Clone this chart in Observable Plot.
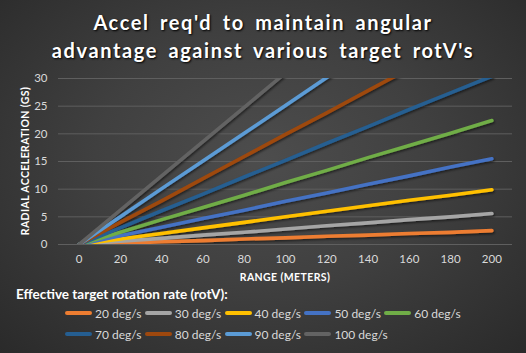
<!DOCTYPE html>
<html><head><meta charset="utf-8">
<script src="https://cdn.jsdelivr.net/npm/d3@7"></script>
<script src="https://cdn.jsdelivr.net/npm/@observablehq/plot@0.6"></script>
<style>
html,body{margin:0;padding:0;background:#333;}
#wrap{position:relative;width:526px;height:353px;overflow:hidden;
 background:radial-gradient(ellipse at 50% 45%, #4d4d4d 0%, #404040 45%, #2a2a2a 100%);
 font-family:Lato,"Open Sans",sans-serif;}
#title{position:absolute;left:0;top:8px;width:526px;text-align:center;color:#fff;font-weight:bold;
 font-size:20px;line-height:28px;letter-spacing:1.6px;word-spacing:4px;text-shadow:1px 1px 2px #000;}
#chart{position:absolute;left:0;top:0;}
#ltitle{position:absolute;left:16px;top:286px;color:#fff;font-weight:bold;font-size:13.5px;}
.item{position:absolute;height:16px;display:flex;align-items:center;color:#d9d9d9;font-size:12px;}
.sw{width:27px;height:4px;border-radius:2px;margin-right:3px;}
</style></head>
<body><div id="wrap">
<div id="chart"></div>
<div id="title">Accel req'd to maintain angular<br>advantage against various target rotV's</div>
<div id="ltitle">Effective target rotation rate (rotV):</div>
</div>
<script>
const range = [0,20,40,60,80,100,120,140,160,180,200];
const rates = ["20 deg/s","30 deg/s","40 deg/s","50 deg/s","60 deg/s","70 deg/s","80 deg/s","90 deg/s","100 deg/s"];
const colors = ["#ED7D31","#A5A5A5","#FFC000","#4472C4","#70AD47","#255E91","#9E480E","#5B9BD5","#636363"];
const accel20  = [0,0.2,0.5,0.7,1.0,1.2,1.5,1.7,2.0,2.2,2.5];
const accel30  = [0,0.6,1.1,1.7,2.2,2.8,3.4,3.9,4.5,5.0,5.6];
const accel40  = [0,1.0,2.0,3.0,4.0,5.0,6.0,7.0,8.0,8.9,9.9];
const accel50  = [0,1.6,3.1,4.7,6.2,7.8,9.3,10.9,12.4,14.0,15.5];
const accel60  = [0,2.2,4.5,6.7,8.9,11.2,13.4,15.7,17.9,20.1,22.4];
const accel70  = [0,3.0,6.1,9.1,12.2,15.2,18.3,21.3,24.4,27.4,30.4];
const accel80  = [0,4.0,7.9,11.9,15.9,19.9,23.8,27.8,31.8,35.8,39.7];
const accel90  = [0,5.0,10.1,15.1,20.1,25.1,30.2,35.2,40.2,45.3,50.3];
const accel100 = [0,6.2,12.4,18.6,24.8,31.0,37.3,43.5,49.7,55.9,62.1];
const yTicks = [0,5,10,15,20,25,30];
const xTicks = range;

const series = [accel20,accel30,accel40,accel50,accel60,accel70,accel80,accel90,accel100];
const data = series.flatMap((s,i)=>s.map((v,j)=>({rate:rates[i],x:range[j],y:v})));

const plot = Plot.plot({
  width:526, height:353,
  marginLeft:58, marginRight:14, marginTop:78, marginBottom:109,
  style:{background:"transparent",color:"#d9d9d9",fontFamily:"Lato, 'Open Sans', sans-serif",fontSize:"11.5px"},
  x:{domain:[-10,210], ticks:xTicks, tickSize:0, tickPadding:11, label:null},
  y:{domain:[0,30], ticks:yTicks, tickSize:0, tickPadding:11, label:null},
  color:{domain:rates, range:colors},
  marks:[
    Plot.gridY(yTicks,{stroke:"#5f5f5f",strokeOpacity:1,strokeWidth:1}),
    Plot.axisX({ticks:xTicks,tickSize:0,tickPadding:10,label:null,fill:"#d9d9d9"}),
    Plot.axisY({ticks:yTicks,tickSize:0,tickPadding:11,label:null,fill:"#d9d9d9"}),
    Plot.line(data,{x:"x",y:"y",z:"rate",stroke:"rate",strokeWidth:3.6,strokeLinecap:"round",strokeLinejoin:"round",clip:true})
  ]
});
const svg = d3.select(plot);
svg.insert("defs",":first-child").html('<filter id="sh" x="-10%" y="-10%" width="120%" height="130%"><feDropShadow dx="1" dy="1.5" stdDeviation="1" flood-color="#000" flood-opacity="0.55"/></filter>');
svg.selectAll("g[aria-label='line']").attr("filter","url(#sh)");
// axis titles
svg.append("text").attr("transform","translate(29,161) rotate(-90)").attr("text-anchor","middle")
  .attr("fill","#fff").attr("font-weight","bold").attr("font-size","10.5px").attr("letter-spacing","0.4px").text("RADIAL ACCELERATION (GS)");
svg.append("text").attr("x",285).attr("y",281).attr("text-anchor","middle")
  .attr("fill","#fff").attr("font-weight","bold").attr("font-size","10.5px").attr("letter-spacing","0.4px").text("RANGE (METERS)");
document.getElementById("chart").appendChild(plot);

const wrap = document.getElementById("wrap");
rates.forEach((r,i)=>{
  const row = Math.floor(i/5), col = i%5;
  const d = document.createElement("div");
  d.className="item";
  d.style.left = (65 + col*79.8) + "px";
  d.style.top = (305 + row*21) + "px";
  d.innerHTML = `<span class="sw" style="background:${colors[i]}"></span><span>${r}</span>`;
  wrap.appendChild(d);
});
</script>
</body></html>
